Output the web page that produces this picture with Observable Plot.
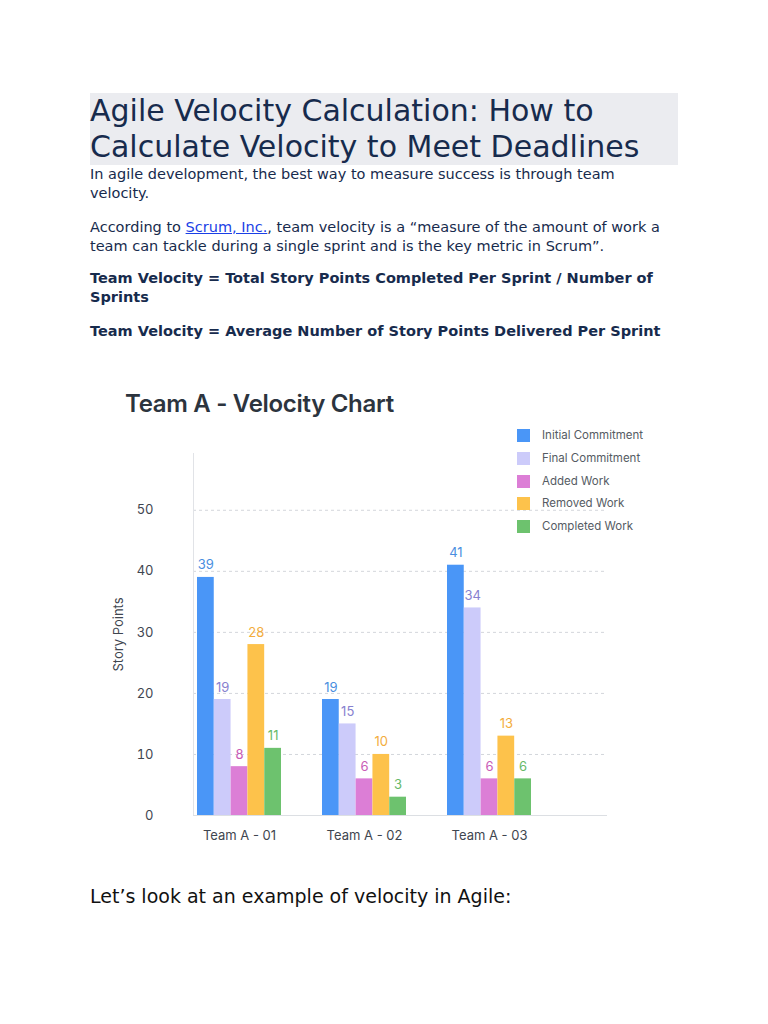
<!DOCTYPE html>
<html>
<head>
<meta charset="utf-8">
<script src="https://cdn.jsdelivr.net/npm/d3@7"></script>
<script src="https://cdn.jsdelivr.net/npm/@observablehq/plot@0.6"></script>
<style>
  html, body { margin: 0; padding: 0; background: #ffffff; }
  body { width: 768px; height: 1024px; position: relative; overflow: hidden;
         font-family: "DejaVu Sans", sans-serif; color: #172b4d; }
  .abs { position: absolute; white-space: nowrap; }
  #hdr { left: 90px; top: 93px; width: 588px; height: 72px; background: #ebecf0;
         font-size: 30px; line-height: 36px; color: #172b4d; }
  .p { left: 90px; font-size: 14.5px; line-height: 19px; color: #172b4d; }
  .b { font-weight: bold; }
  a { color: #1a3fe6; text-decoration: underline; }
  #ctitle { left: 125px; top: 389px; font-family: Inter, sans-serif; font-weight: 600;
            font-size: 24px; line-height: 30px; color: #2c343e; letter-spacing: -0.3px; }
  #chart { left: 0; top: 440px; }
  #legend { left: 517px; top: 429px; font-family: Inter, sans-serif; font-size: 11.5px; color: #555b63; }
  .li { height: 22.75px; display: flex; align-items: flex-start; }
  .sw { width: 13px; height: 13px; margin-right: 12px; }
  .lt { line-height: 13px; }
  #outro { left: 90px; top: 885px; font-size: 19px; line-height: 22px; color: #111111; }
</style>
</head>
<body>
<div id="hdr" class="abs">Agile Velocity Calculation: How to<br>Calculate Velocity to Meet Deadlines</div>
<div class="abs p" style="top:165px">In agile development, the best way to measure success is through team<br>velocity.</div>
<div class="abs p" style="top:218px">According to <a>Scrum, Inc.</a>, team velocity is a “measure of the amount of work a<br>team can tackle during a single sprint and is the key metric in Scrum”.</div>
<div class="abs p b" style="top:269px">Team Velocity = Total Story Points Completed Per Sprint / Number of<br>Sprints</div>
<div class="abs p b" style="top:322px">Team Velocity = Average Number of Story Points Delivered Per Sprint</div>
<div id="ctitle" class="abs">Team A - Velocity Chart</div>
<div id="chart" class="abs"></div>
<div id="legend" class="abs"></div>
<div id="outro" class="abs">Let’s look at an example of velocity in Agile:</div>
<script>
// ---- data ----
const teams = ["Team A - 01", "Team A - 02", "Team A - 03"];
const series = ["Initial Commitment", "Final Commitment", "Added Work", "Removed Work", "Completed Work"];
const initialCommitment = [39, 19, 41];
const finalCommitment = [19, 15, 34];
const addedWork = [8, 6, 6];
const removedWork = [28, 10, 13];
const completedWork = [11, 3, 6];
const yTicks = [0, 10, 20, 30, 40, 50];
const barColors = ["#4a96f7", "#cccbfa", "#dc7ed6", "#fdc24b", "#6dc26e"];
const labelColors = ["#4a8ee0", "#8781cf", "#c95bb6", "#f3ad3d", "#66b968"];

const values = [initialCommitment, finalCommitment, addedWork, removedWork, completedWork];
const data = [];
series.forEach((s, j) => teams.forEach((t, i) => data.push({team: t, series: s, si: j, value: values[j][i]})));

// ---- layout ----
const xRange = [196, 531];
const padIn = 0.33;
const bw = d3.scaleBand().domain(teams).range(xRange).paddingInner(padIn).paddingOuter(0).bandwidth();
const sub = bw / series.length;

const chart = Plot.plot({
  width: 768,
  height: 410,
  marginLeft: 193,
  marginRight: 161,
  marginTop: 13,
  marginBottom: 35,
  style: {fontFamily: "Inter, sans-serif", fontSize: "13px", color: "#3f4650", background: "transparent"},
  x: {domain: teams, range: xRange, paddingInner: padIn, paddingOuter: 0, label: null, axis: null},
  y: {domain: [0, 59.3], label: null, axis: null},
  marks: [
    Plot.gridY(yTicks.filter(d => d > 0), {stroke: "#d3d6db", strokeOpacity: 1, strokeDasharray: "3,3"}),
    Plot.frame({anchor: "left", stroke: "#e1e3e7"}),
    Plot.ruleY([0], {stroke: "#dcdfe3"}),
    ...series.map((s, j) => Plot.barY(data.filter(d => d.si === j), {
      x: "team", y: "value", fill: barColors[j],
      insetLeft: j * sub, insetRight: (series.length - 1 - j) * sub
    })),
    ...series.map((s, j) => Plot.text(data.filter(d => d.si === j), {
      x: "team", y: "value", text: d => String(d.value),
      dx: (j - (series.length - 1) / 2) * sub, dy: -8, lineAnchor: "bottom",
      fill: labelColors[j], fontSize: 13
    })),
    Plot.axisY(yTicks, {tickSize: 0, tickPadding: 40, label: "Story Points", labelArrow: false, labelAnchor: "center", labelOffset: 80, fill: "#3f4650"}),
    Plot.axisX({tickSize: 0, tickPadding: 15, label: null, fill: "#3f4650"})
  ]
});
document.getElementById("chart").appendChild(chart);

// ---- legend ----
const legend = document.getElementById("legend");
series.forEach((s, j) => {
  const row = document.createElement("div");
  row.className = "li";
  const sw = document.createElement("div");
  sw.className = "sw";
  sw.style.background = barColors[j];
  const lt = document.createElement("div");
  lt.className = "lt";
  lt.textContent = s;
  row.appendChild(sw); row.appendChild(lt);
  legend.appendChild(row);
});
</script>
</body>
</html>
